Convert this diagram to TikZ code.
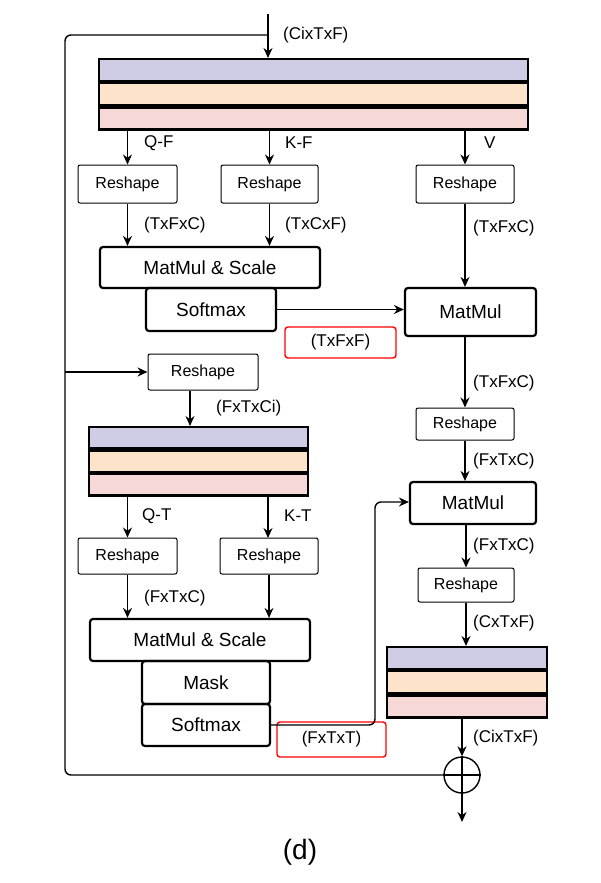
\documentclass[tikz,border=0pt]{standalone}
\usepackage{fontspec}
\setmainfont{Liberation Sans}
\usetikzlibrary{arrows.meta}
\definecolor{lav}{HTML}{CFCDE6}
\definecolor{pea}{HTML}{FCE3C9}
\definecolor{pnk}{HTML}{F6D8D6}
\begin{document}
\begin{tikzpicture}[x=1pt,y=-1pt,
 thin box/.style={draw,line width=1pt,rounded corners=2pt,inner sep=0pt,font=\fontsize{16}{16}\selectfont},
 thick box/.style={draw,line width=2.2pt,rounded corners=3pt,inner sep=0pt,font=\fontsize{19}{19}\selectfont},
 red box/.style={draw=red,line width=1.4pt,rounded corners=3pt,inner sep=0pt,font=\fontsize{17}{17}\selectfont},
 lbl/.style={font=\fontsize{17}{17}\selectfont,anchor=west,inner sep=1pt},
 arr/.style={-{Stealth[length=10pt,width=9pt]},line width=1.4pt},
 ln/.style={line width=1.4pt}]
\useasboundingbox (0,0) rectangle (600,883);
\newcommand{\mystack}[5]{%
 \node[draw,line width=2.2pt,fill=lav,minimum width=#3-#1,minimum height=(#4-#2)/3,inner sep=0pt,anchor=north west] (#5a) at (#1,#2) {};
 \node[draw,line width=2.2pt,fill=pea,minimum width=#3-#1,minimum height=(#4-#2)/3,inner sep=0pt,anchor=north] (#5b) at (#5a.south) {};
 \node[draw,line width=2.2pt,fill=pnk,minimum width=#3-#1,minimum height=(#4-#2)/3,inner sep=0pt,anchor=north] (#5c) at (#5b.south) {};}
\mystack{98}{58}{527}{124}{s1}
\mystack{88}{426}{307}{490}{s2}
\mystack{386}{646}{546}{712}{s3}
\newcommand{\bx}[6]{\node[#1,minimum width=#4-#2,minimum height=#5-#3] (#6) at ({(#2+#4)/2},{(#3+#5)/2})}
\bx{thin box}{78}{165}{177}{203}{r1} {Reshape};
\bx{thin box}{221}{165}{318}{203}{r2} {Reshape};
\bx{thin box}{416}{165}{514}{203}{r3} {Reshape};
\bx{thick box}{100}{247}{320}{288}{ms1} {MatMul \& Scale};
\bx{thick box}{146}{288}{276}{331}{sm1} {Softmax};
\bx{thick box}{405}{288}{536}{336}{mm1} {MatMul};
\bx{red box}{285}{327}{396}{358}{rb1} {(TxFxF)};
\bx{thin box}{148}{354}{258}{390}{r4} {Reshape};
\bx{thin box}{416}{408}{514}{440}{r5} {Reshape};
\bx{thick box}{410}{482}{536}{524}{mm2} {MatMul};
\bx{thin box}{78}{538}{177}{574}{r6} {Reshape};
\bx{thin box}{220}{538}{318}{574}{r7} {Reshape};
\bx{thick box}{90}{619}{310}{661}{ms2} {MatMul \& Scale};
\bx{thick box}{142}{661}{270}{704}{mk} {Mask};
\bx{thick box}{142}{704}{270}{746}{sm2} {Softmax};
\bx{thin box}{418}{568}{514}{602}{r8} {Reshape};
\node[draw,circle,line width=1.4pt,minimum size=36pt,inner sep=0pt] (ad) at (462,775) {};
\draw[line width=1.4pt] (ad.north)--(ad.south) (ad.west)--(ad.east);
\coordinate (in) at (268,14);
\draw[arr] (in) -- (s1a.north -| in);
\node[lbl] at (282,35) {(CixTxF)};
\draw[ln,rounded corners=6pt] (268,35) -- (65,35) -- (65,775) -- (ad.west);
\draw[arr] (r4.west -| 65,0) -- (r4.west);
\draw[arr] (s1c.south -| r1) -- (r1); \node[lbl] at (143,143) {Q-F};
\draw[arr] (s1c.south -| r2) -- (r2); \node[lbl] at (284,143) {K-F};
\draw[arr] (s1c.south -| r3) -- (r3); \node[lbl] at (483,143) {V};
\draw[arr] (r1.south) -- (r1.south |- ms1.north); \node[lbl] at (143,225) {(TxFxC)};
\draw[arr] (r2.south) -- (r2.south |- ms1.north); \node[lbl] at (284,225) {(TxCxF)};
\draw[arr] (r3.south) -- (r3.south |- mm1.north); \node[lbl] at (472,228) {(TxFxC)};
\draw[arr] (sm1.east) -- (sm1.east -| mm1.west);
\draw[arr] (mm1.south -| r5) -- (r5.north); \node[lbl] at (472,383) {(TxFxC)};
\draw[arr] (r5.south) -- (r5.south |- mm2.north); \node[lbl] at (472,461) {(FxTxC)};
\draw[arr] (mm2.south -| r8) -- (r8.north); \node[lbl] at (472,546) {(FxTxC)};
\draw[arr] (r8.south) -- (r8.south |- s3a.north); \node[lbl] at (472,623) {(CxTxF)};
\draw[arr] (s3c.south -| ad) -- (ad.north); \node[lbl] at (472,738) {(CixTxF)};
\coordinate (out) at (462,822);
\draw[arr] (ad.south) -- (out);
\draw[arr] (r4.south -| 190,0) -- (190,426); \node[lbl] at (215,408) {(FxTxCi)};
\draw[arr] (s2c.south -| r1) -- (r6); \node[lbl] at (141,516) {Q-T};
\draw[arr] (s2c.south -| 268,0) -- (268,538); \node[lbl] at (283,516) {K-T};
\draw[arr] (r6.south) -- (r6.south |- ms2.north); \node[lbl] at (143,598) {(FxTxC)};
\draw[arr] (r7.south) -- (r7.south |- ms2.north);
\bx{red box}{277}{722}{386}{757}{rb2} {(FxTxT)};
\draw[arr,rounded corners=6pt] (sm2.east) -- (375,725) -- (375,502) -- (mm2.west |- 0,502);
\node[font=\fontsize{28}{28}\selectfont] at (300,852) {(d)};
\end{tikzpicture}
\end{document}
